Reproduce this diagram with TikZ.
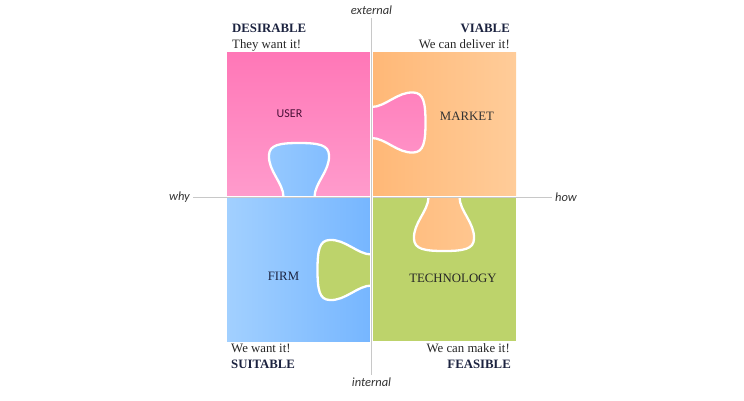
\documentclass[tikz,border=0pt]{standalone}
\usepackage{fontspec}
\setmainfont{Liberation Serif}
\newfontfamily\calibfont{Carlito}
\usetikzlibrary{positioning}

\definecolor{pinktop}{HTML}{FF77B7}
\definecolor{pinkbot}{HTML}{FF9BCC}
\definecolor{orangel}{HTML}{FFB877}
\definecolor{oranger}{HTML}{FFCC99}
\definecolor{bluel}{HTML}{A2D0FF}
\definecolor{bluer}{HTML}{76B6FF}
\definecolor{greenp}{HTML}{BDD36B}
\definecolor{axisgray}{HTML}{C8C8C8}
\definecolor{navy}{HTML}{1C2340}
\definecolor{userplum}{HTML}{4A1038}

% one puzzle tab, pointing along +x from its base
\newcommand{\tabcurve}{(0,-15.5) .. controls (14,-15.5) and (26,-31) .. (42,-30) .. controls (52,-29.5) and (54,-20) .. (54,0) .. controls (54,20) and (52,29.5) .. (42,30) .. controls (26,31) and (14,15.5) .. (0,15.5)}

\begin{document}
\begin{tikzpicture}[x=1pt, y=-1pt,
  headtxt/.style = {inner sep=0, font=\fontsize{12.8}{14}\selectfont\bfseries, text=navy},
  subtxt/.style = {inner sep=0, font=\fontsize{12.8}{14}\selectfont, text=black!85},
  piecetxt/.style = {inner sep=0, font=\fontsize{12.8}{14}\selectfont},
  axistxt/.style = {inner sep=3pt, font=\calibfont\itshape\fontsize{12.5}{14}\selectfont, text=black!80},
  axis/.style = {draw=white, double=axisgray, double distance=0.8pt, line width=1pt},
  tabedge/.style = {draw=white, line width=2.3pt}]
\useasboundingbox (0,0) rectangle (744,400);

% the four pieces
\shade[top color=pinktop, bottom color=pinkbot] (227,52) rectangle (370.3,195.6);
\shade[left color=orangel, right color=oranger] (372.7,52) rectangle (516,195.6);
\shade[left color=bluel, right color=bluer] (227,198.4) rectangle (370.3,341);
\fill[greenp] (372.7,198.4) rectangle (516,341);

% tabs
\begin{scope}[shift={(299,197)}, rotate=90]
  \clip \tabcurve -- (-4,15.5) -- (-4,-15.5) -- cycle;
  \shade[reset cm, left color=bluel, right color=bluer] (227,140) rectangle (370.3,341);
\end{scope}
\draw[tabedge, shift={(299,197)}, rotate=90] \tabcurve;

\begin{scope}[shift={(371.5,122.5)}]
  \clip \tabcurve -- (-4,15.5) -- (-4,-15.5) -- cycle;
  \shade[reset cm, top color=pinktop, bottom color=pinkbot] (227,52) rectangle (430,195.6);
\end{scope}
\draw[tabedge, shift={(371.5,122.5)}] \tabcurve;

\begin{scope}[shift={(444,197)}, rotate=-90]
  \clip \tabcurve -- (-4,15.5) -- (-4,-15.5) -- cycle;
  \shade[reset cm, left color=orangel, right color=oranger] (372.7,52) rectangle (516,255);
\end{scope}
\draw[tabedge, shift={(444,197)}, rotate=-90] \tabcurve;

\begin{scope}[shift={(371.5,270)}, rotate=180]
  \clip \tabcurve -- (-4,15.5) -- (-4,-15.5) -- cycle;
  \fill[greenp] (-4,-40) rectangle (60,40);
\end{scope}
\draw[tabedge, shift={(371.5,270)}, rotate=180] \tabcurve;

% axes
\node[axistxt, anchor=east] (why) at (193,197) {why};
\node[axistxt, anchor=west] (how) at (552,197) {how};
\node[axistxt, anchor=south] (external) at (371.5,18) {external};
\node[axistxt, anchor=north] (internal) at (371.5,375) {internal};
\draw[axis] (why) -- (how);
\draw[axis] (external) -- (internal);

% piece labels
\node[inner sep=0, font=\calibfont\fontsize{12}{14}\selectfont, text=userplum] (user) at (289.5,114) {USER};
\node[piecetxt, text=black!80] (market) at (467,116) {MARKET};
\node[piecetxt, text=navy] (firm) at (283.5,276) {FIRM};
\node[piecetxt, text=black!85] (technology) at (453,278) {TECHNOLOGY};

% corner captions
\node[headtxt, anchor=base west] (desirable) at (232,32.5) {DESIRABLE};
\node[subtxt, anchor=base west] (theywant) at (232,48) {They want it!};
\node[headtxt, anchor=base east] (viable) at (510,32.5) {VIABLE};
\node[subtxt, anchor=base east] (deliver) at (510,48) {We can deliver it!};
\node[subtxt, anchor=base west] (wewant) at (231,352.5) {We want it!};
\node[headtxt, anchor=base west] (suitable) at (231,368) {SUITABLE};
\node[subtxt, anchor=base east] (makeit) at (510,352.5) {We can make it!};
\node[headtxt, anchor=base east] (feasible) at (511,368) {FEASIBLE};
\end{tikzpicture}
\end{document}
